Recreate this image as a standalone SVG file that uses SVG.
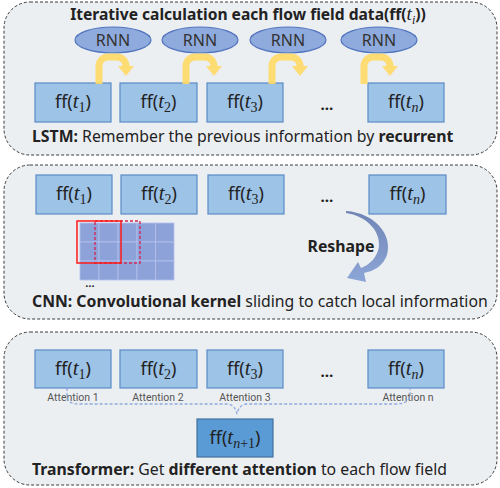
<svg xmlns="http://www.w3.org/2000/svg" width="500" height="488" viewBox="0 0 500 488">
<defs>
<style>
.panel{fill:#ECEFF2;stroke:#3A3A3A;stroke-width:1;stroke-dasharray:3 2}
.box{fill:#9DC3E6;stroke:#5A8AC6;stroke-width:1.2}
.out{fill:#5B9BD5;stroke:#41719C;stroke-width:1.2}
.ell{fill:#8FAADC;stroke:#4F74BE;stroke-width:1.2}
.lbl{font-family:"Noto Sans","Open Sans",sans-serif;font-size:18px;fill:#222;text-anchor:middle}
.mt{font-family:"Liberation Serif",serif;font-style:italic;font-size:21px}
.sub{font-family:"Liberation Serif",serif;font-size:14px}
.subi{font-family:"Liberation Serif",serif;font-size:14px;font-style:italic}
.rnn{font-family:"Noto Sans","Open Sans",sans-serif;font-size:16px;fill:#333;text-anchor:middle}
.cap{font-family:"Noto Sans","Open Sans",sans-serif;font-size:15.8px;fill:#222}
.title{font-family:"Noto Sans","Open Sans",sans-serif;font-size:15.6px;font-weight:bold;fill:#222;text-anchor:middle}
.tt{font-family:"Liberation Serif",serif;font-style:italic;font-weight:normal;font-size:19px}
.ts{font-family:"Liberation Serif",serif;font-style:italic;font-weight:normal;font-size:12px}
.b{font-weight:bold}
.att{font-family:Roboto,"Liberation Sans",sans-serif;font-size:10.5px;fill:#555;text-anchor:middle}
.dots{font-family:"Noto Sans",sans-serif;font-size:15px;fill:#222;text-anchor:middle;font-weight:bold}
.gdots{font-family:"Noto Sans",sans-serif;font-size:11px;fill:#222;text-anchor:middle;font-weight:bold}
.yarr{fill:none;stroke:#FFD966;stroke-width:7;stroke-opacity:0.9}
.yhead{fill:#FFD966;fill-opacity:0.9}
.cell{fill:#8EA2DA;stroke:#B3C0EA;stroke-width:0.8}
</style>
<linearGradient id="rg" x1="0" y1="0" x2="0" y2="1">
<stop offset="0" stop-color="#7085B5"/>
<stop offset="1" stop-color="#8DA6D8"/>
</linearGradient>
</defs>
<rect width="500" height="488" fill="#FFFFFF"/>

<g id="panel-lstm">
<rect class="panel" x="4" y="2" width="493" height="153" rx="26"/>
<text class="title" x="248" y="20">Iterative calculation each flow field data(ff(<tspan class="tt">t</tspan><tspan class="ts" dy="4">i</tspan><tspan dy="-4">))</tspan></text>
<text class="cap" x="32" y="142"><tspan class="b">LSTM:</tspan> Remember the previous information by <tspan class="b">recurrent</tspan></text>
</g>

<g id="panel-cnn">
<rect class="panel" x="4" y="165" width="493" height="154" rx="26"/>
<text class="cap" x="32" y="307"><tspan class="b">CNN: Convolutional kernel</tspan> sliding to catch local information</text>
<text class="cap b" x="341" y="252" text-anchor="middle">Reshape</text>
</g>

<g id="panel-transformer">
<rect class="panel" x="4" y="332" width="493" height="153" rx="26"/>
<text class="cap" x="32" y="475"><tspan class="b">Transformer:</tspan> Get <tspan class="b">different attention</tspan> to each flow field</text>
<text class="att" x="73" y="401">Attention 1</text>
<text class="att" x="158" y="401">Attention 2</text>
<text class="att" x="245" y="401">Attention 3</text>
<text class="att" x="408" y="401">Attention n</text>
</g>

<g id="rnn1"><ellipse class="ell" cx="113" cy="40" rx="38" ry="13"/><text class="rnn" x="113" y="46">RNN</text></g>
<g id="rnn2"><ellipse class="ell" cx="200" cy="40" rx="38" ry="13"/><text class="rnn" x="200" y="46">RNN</text></g>
<g id="rnn3"><ellipse class="ell" cx="288" cy="40" rx="38" ry="13"/><text class="rnn" x="288" y="46">RNN</text></g>
<g id="rnn4"><ellipse class="ell" cx="379" cy="40" rx="38" ry="13"/><text class="rnn" x="379" y="46">RNN</text></g>

<g id="l-ff1"><rect class="box" x="35" y="83" width="76" height="39"/><text class="lbl" x="73" y="108">ff(<tspan class="mt">t</tspan><tspan class="sub" dy="4">1</tspan><tspan dy="-4">)</tspan></text></g>
<g id="l-ff2"><rect class="box" x="120" y="83" width="77" height="39"/><text class="lbl" x="158.5" y="108">ff(<tspan class="mt">t</tspan><tspan class="sub" dy="4">2</tspan><tspan dy="-4">)</tspan></text></g>
<g id="l-ff3"><rect class="box" x="207" y="83" width="76" height="39"/><text class="lbl" x="245" y="108">ff(<tspan class="mt">t</tspan><tspan class="sub" dy="4">3</tspan><tspan dy="-4">)</tspan></text></g>
<g id="l-dots"><text class="dots" x="327" y="110">…</text></g>
<g id="l-ffn"><rect class="box" x="368" y="83" width="76" height="39"/><text class="lbl" x="406" y="108">ff(<tspan class="mt">t</tspan><tspan class="subi" dy="4">n</tspan><tspan dy="-4">)</tspan></text></g>

<g id="c-ff1"><rect class="box" x="36" y="175" width="76" height="39"/><text class="lbl" x="74" y="200">ff(<tspan class="mt">t</tspan><tspan class="sub" dy="4">1</tspan><tspan dy="-4">)</tspan></text></g>
<g id="c-ff2"><rect class="box" x="121" y="175" width="76" height="39"/><text class="lbl" x="159" y="200">ff(<tspan class="mt">t</tspan><tspan class="sub" dy="4">2</tspan><tspan dy="-4">)</tspan></text></g>
<g id="c-ff3"><rect class="box" x="208" y="175" width="76" height="39"/><text class="lbl" x="246" y="200">ff(<tspan class="mt">t</tspan><tspan class="sub" dy="4">3</tspan><tspan dy="-4">)</tspan></text></g>
<g id="c-dots"><text class="dots" x="327" y="202">…</text></g>
<g id="c-ffn"><rect class="box" x="369" y="175" width="77" height="39"/><text class="lbl" x="407.5" y="200">ff(<tspan class="mt">t</tspan><tspan class="subi" dy="4">n</tspan><tspan dy="-4">)</tspan></text></g>

<g id="grid">
<rect class="cell" x="80" y="223" width="19" height="19"/><rect class="cell" x="99" y="223" width="19" height="19"/><rect class="cell" x="118" y="223" width="19" height="19"/><rect class="cell" x="137" y="223" width="18.5" height="19"/><rect class="cell" x="155.5" y="223" width="18.5" height="19"/>
<rect class="cell" x="80" y="242" width="19" height="19"/><rect class="cell" x="99" y="242" width="19" height="19"/><rect class="cell" x="118" y="242" width="19" height="19"/><rect class="cell" x="137" y="242" width="18.5" height="19"/><rect class="cell" x="155.5" y="242" width="18.5" height="19"/>
<rect class="cell" x="80" y="261" width="19" height="19"/><rect class="cell" x="99" y="261" width="19" height="19"/><rect class="cell" x="118" y="261" width="19" height="19"/><rect class="cell" x="137" y="261" width="18.5" height="19"/><rect class="cell" x="155.5" y="261" width="18.5" height="19"/>
<rect x="95" y="221" width="45" height="42" fill="none" stroke="#D02A55" stroke-width="1.4" stroke-dasharray="3 2"/>
<rect x="77" y="221" width="44" height="42" fill="none" stroke="#FF1A1A" stroke-width="1.5"/>
<text class="gdots" x="90" y="287">…</text>
</g>

<g id="t-ff1"><rect class="box" x="35" y="350" width="76" height="38"/><text class="lbl" x="73" y="375">ff(<tspan class="mt">t</tspan><tspan class="sub" dy="4">1</tspan><tspan dy="-4">)</tspan></text></g>
<g id="t-ff2"><rect class="box" x="120" y="350" width="77" height="38"/><text class="lbl" x="158.5" y="375">ff(<tspan class="mt">t</tspan><tspan class="sub" dy="4">2</tspan><tspan dy="-4">)</tspan></text></g>
<g id="t-ff3"><rect class="box" x="207" y="350" width="76" height="38"/><text class="lbl" x="245" y="375">ff(<tspan class="mt">t</tspan><tspan class="sub" dy="4">3</tspan><tspan dy="-4">)</tspan></text></g>
<g id="t-dots"><text class="dots" x="327" y="377">…</text></g>
<g id="t-ffn"><rect class="box" x="368" y="350" width="76" height="38"/><text class="lbl" x="406" y="375">ff(<tspan class="mt">t</tspan><tspan class="subi" dy="4">n</tspan><tspan dy="-4">)</tspan></text></g>
<g id="t-out"><rect class="out" x="197" y="419" width="76" height="38"/><text class="lbl" x="235" y="444">ff(<tspan class="mt">t</tspan><tspan class="subi" dy="4">n</tspan><tspan class="sub">+1</tspan><tspan dy="-4">)</tspan></text></g>

<g id="connectors">
<path class="yarr" d="M99,84 V66 A9,9 0 0 1 108,57 H117 A9,9 0 0 1 126,66 V67"/>
<polygon class="yhead" points="118,66 134,66 126,76"/>
<path class="yarr" d="M186,84 V66 A9,9 0 0 1 195,57 H205 A9,9 0 0 1 214,66 V67"/>
<polygon class="yhead" points="206,66 222,66 214,76"/>
<path class="yarr" d="M272,84 V66 A9,9 0 0 1 281,57 H291 A9,9 0 0 1 300,66 V67"/>
<polygon class="yhead" points="292,66 308,66 300,76"/>
<path class="yarr" d="M364,84 V66 A9,9 0 0 1 373,57 H381 A9,9 0 0 1 390,66 V67"/>
<polygon class="yhead" points="382,66 398,66 390,76"/>
<path d="M346,211 C375,213 393,235 387,255 C383,266 374,271 364,273 L366,282 L347,278 L358,262 L361,268 C370,265 378,256 379,246 C380,230 366,216 346,213 Z" fill="url(#rg)"/>
<path d="M67,388 V397 Q67,404 80,404 H228 Q235,405 237,414 Q239,405 246,404 H396 Q408,404 410,396 V388" fill="none" stroke="#8FAADC" stroke-width="1.3" stroke-dasharray="3 2"/>
</g>
</svg>
